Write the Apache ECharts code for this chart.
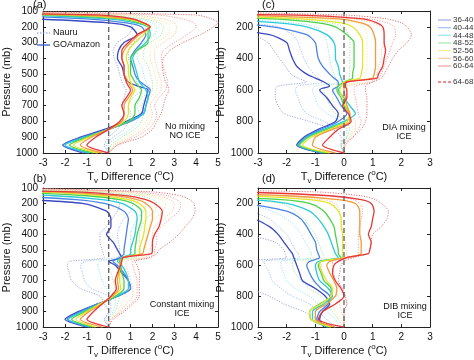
<!DOCTYPE html>
<html><head><meta charset="utf-8">
<script src="https://cdn.jsdelivr.net/npm/echarts@6/dist/echarts.min.js"></script>
<style>html,body{margin:0;padding:0;background:#fff}#c{width:474px;height:360px}</style>
</head><body><div id="c"></div>
<script>
// Pressure levels (mb)
const P = [100,125,150,175,200,250,300,350,400,450,500,525,550,575,600,650,700,750,800,850,900,950,1000];
const binLabels = ['36-40','40-44','44-48','48-52','52-56','56-60','60-64','64-68'];
const yTicksCD = [200,400,600,800,1000];

// Panel (a) No mixing, NO ICE
const aGoAmazon = [
 [-20,-10,-3.5,0.0,1.0,1.3,0.7,0.45,0.4,0.6,0.7,0.75,0.9,1.3,1.8,1.7,1.6,1.5,0.8,-0.2,-1.3,-2.1,-1.2],
 [-18,-6,-1.0,0.8,1.5,1.7,1.5,1.2,1.0,1.1,1.2,1.3,1.45,1.7,1.9,1.8,1.7,1.6,1.0,0.0,-1.2,-2.1,-1.0],
 [-16,-4,0.0,1.2,1.8,1.9,1.7,1.3,1.1,1.2,1.3,1.35,1.4,1.55,1.7,1.8,1.7,1.6,0.9,0.0,-1.1,-2.0,-0.9],
 [-15,-3,0.5,1.4,1.8,1.8,1.8,1.3,1.0,1.0,1.0,1.1,1.2,1.35,1.5,1.4,1.2,1.2,0.9,0.0,-1.0,-1.8,-0.7],
 [-14,-2,0.8,1.5,1.8,1.6,1.2,0.9,0.8,0.9,0.9,0.95,1.0,1.1,1.2,1.0,0.9,0.9,0.7,0.0,-0.9,-1.6,-0.5],
 [-13,-1.5,1.0,1.6,1.9,1.4,1.0,0.7,0.6,0.7,0.7,0.8,0.9,1.0,1.1,0.9,0.7,0.7,0.6,0.0,-0.8,-1.3,-0.3],
 [-12,-0.5,1.1,1.6,1.9,1.3,0.9,0.6,0.6,0.7,0.7,0.75,0.8,0.9,1.0,0.8,0.6,0.7,0.5,0.0,-0.6,-1.0,0.0]
];
const aNauru = [
 [-12,-1.5,0.4,0.9,1.1,0.9,0.4,0.2,0.25,0.4,0.5,0.55,0.6,0.7,0.8,0.7,0.6,0.7,0.6,0.4,0.0,-0.2,0.0],
 [-11,-1.0,0.9,1.5,1.7,1.6,1.1,0.9,0.9,1.1,1.2,1.25,1.3,1.4,1.5,1.1,0.9,1.0,0.9,0.7,0.2,-0.1,0.0],
 [-10,-0.5,1.3,2.0,2.2,2.1,1.6,1.3,1.3,1.5,1.6,1.65,1.7,1.8,1.9,1.5,1.3,1.4,1.3,1.0,0.4,0.0,0.0],
 [-9,0.0,1.6,2.3,2.5,2.4,1.9,1.6,1.6,1.8,1.9,1.95,2.0,2.0,2.0,1.7,1.5,1.6,1.5,1.2,0.6,0.1,0.0],
 [-8.5,0.4,2.0,2.6,2.8,2.7,2.2,1.9,1.9,2.0,2.1,2.15,2.2,2.2,2.2,1.9,1.7,1.8,1.7,1.4,0.8,0.2,0.0],
 [-8,1.0,2.5,3.0,3.1,3.0,2.5,2.1,2.1,2.2,2.3,2.35,2.4,2.4,2.4,2.1,1.9,2.0,1.9,1.6,1.0,0.3,0.0],
 [-7,2.2,3.4,3.9,4.0,3.6,3.0,2.5,2.4,2.5,2.6,2.65,2.7,2.65,2.6,2.3,2.1,2.2,2.1,1.8,1.2,0.4,0.0],
 [-6,4.0,4.7,5.0,4.8,4.2,3.4,2.8,2.5,2.45,2.5,2.55,2.6,2.7,2.75,2.6,2.5,2.4,2.2,2.0,1.5,0.4,0.0]
];

// Panel (b) Constant mixing, ICE
const bGoAmazon = [
 [-30,-20,-10,-4,-1.2,-0.1,0.1,0.1,-0.1,0.2,0.4,0.5,0.6,0.0,0.3,0.6,0.9,1.0,0.4,-0.5,-1.4,-2.0,-1.0],
 [-25,-12,-5,-1.5,-0.2,0.7,0.9,0.85,0.8,0.75,0.7,0.7,0.5,0.2,0.4,0.7,0.9,1.0,0.4,-0.5,-1.3,-1.9,-0.9],
 [-20,-8,-2.5,-0.3,0.6,1.2,1.3,1.25,1.2,1.1,1.0,1.0,0.6,0.4,0.6,0.8,0.9,0.9,0.35,-0.4,-1.2,-1.85,-0.8],
 [-17,-5,-1.0,0.5,1.1,1.5,1.5,1.4,1.3,1.25,1.2,1.2,0.65,0.5,0.55,0.6,0.7,0.7,0.3,-0.4,-1.1,-1.7,-0.7],
 [-15,-3.5,-0.3,0.9,1.4,1.7,1.7,1.65,1.6,1.5,1.4,1.4,0.65,0.55,0.5,0.5,0.5,0.55,0.2,-0.4,-1.0,-1.5,-0.6],
 [-13,-2.5,0.3,1.3,1.7,2.0,2.0,1.9,1.8,1.7,1.6,1.55,0.65,0.55,0.5,0.45,0.4,0.45,0.15,-0.3,-0.9,-1.3,-0.3],
 [-12,-1.5,0.8,1.7,2.1,2.45,2.4,2.3,2.1,2.0,2.0,1.95,0.65,0.6,0.55,0.4,0.3,0.35,0.1,-0.3,-0.7,-1.0,0.0]
];
const bNauru = [
 [-12,-3,-0.5,0.3,0.5,0.4,0.15,-0.1,-0.4,-0.4,-0.3,-0.25,-0.2,-1.8,-1.9,-1.8,-1.7,-1.3,-0.4,-0.2,0.0,-0.2,0.0],
 [-10,-2,0.3,0.9,1.1,1.0,0.7,0.5,0.4,0.45,0.5,0.5,0.4,-1.1,-1.3,-1.2,-1.1,-0.8,0.0,0.1,0.1,-0.2,0.0],
 [-9,-1.2,0.9,1.5,1.7,1.6,1.3,1.1,1.0,1.0,1.05,1.05,0.9,-0.4,-0.5,-0.4,-0.3,-0.1,0.3,0.3,0.2,-0.1,0.0],
 [-8,-0.5,1.4,2.0,2.2,2.1,1.7,1.5,1.4,1.4,1.45,1.45,1.2,0.0,0.0,0.1,0.2,0.3,0.5,0.4,0.3,0.0,0.0],
 [-7,0.0,1.8,2.4,2.6,2.5,2.1,1.8,1.7,1.7,1.7,1.7,1.4,0.4,0.4,0.5,0.6,0.7,0.8,0.6,0.4,0.0,0.0],
 [-6,0.6,2.2,2.8,3.0,2.9,2.5,2.1,2.0,2.0,1.9,1.9,1.6,0.8,0.8,0.9,1.0,1.1,1.1,0.8,0.5,0.1,0.0],
 [-5,1.2,2.7,3.1,3.3,3.2,2.8,2.4,2.2,2.2,2.1,2.1,1.8,1.1,1.1,1.2,1.3,1.3,1.3,1.0,0.6,0.1,0.0],
 [-4,2.0,3.3,3.7,3.9,3.95,3.8,3.5,3.2,2.8,2.3,2.2,1.9,1.2,1.3,1.4,1.4,1.4,1.4,1.1,0.7,0.2,0.0]
];

// Panel (c) DIA mixing, ICE
const cGoAmazon = [
 [-40,-30,-20,-10,-5,-2.6,-2.0,-1.9,-1.8,-1.65,-1.3,-1.0,-0.7,-0.5,-0.85,-0.6,-0.4,-0.2,-0.3,-0.9,-1.4,-1.65,-0.8],
 [-30,-20,-10,-4.5,-2.5,-1.3,-1.0,-0.95,-0.9,-0.75,-0.5,-0.35,-0.2,-0.2,-0.4,-0.25,-0.1,0.1,-0.2,-0.8,-1.35,-1.6,-0.75],
 [-25,-12,-5,-2.3,-1.3,-0.6,-0.35,-0.3,-0.3,-0.2,-0.15,-0.1,-0.05,-0.1,-0.2,0.0,0.2,0.4,0.0,-0.7,-1.3,-1.6,-0.7],
 [-20,-8,-2.5,-0.9,-0.3,0.1,0.35,0.35,0.35,0.35,0.3,0.3,0.0,-0.2,-0.25,-0.1,0.0,0.2,0.1,-0.6,-1.25,-1.55,-0.6],
 [-18,-6,-1.5,-0.1,0.3,0.55,0.65,0.65,0.65,0.65,0.6,0.55,0.0,-0.1,-0.15,-0.05,0.05,0.2,0.1,-0.5,-1.15,-1.45,-0.5],
 [-16,-4,-0.2,0.6,0.9,1.05,1.1,1.1,1.1,1.1,1.05,1.0,0.05,0.0,0.0,0.05,0.1,0.2,0.2,-0.4,-1.0,-1.1,-0.3],
 [-14,-2,0.65,1.15,1.35,1.4,1.4,1.45,1.4,1.35,1.2,1.15,0.1,0.05,0.1,0.1,-0.05,0.15,0.25,-0.2,-0.5,-0.75,0.0]
];
const cNauru = [
 [-30,-20,-12,-7,-5,-3.2,-2.65,-2.45,-2.25,-2.05,-1.85,-1.6,-1.3,-2.3,-2.4,-2.4,-2.3,-2.1,-1.2,-0.4,-0.1,-0.1,0.0],
 [-25,-14,-7,-3.5,-2.3,-1.8,-1.6,-1.5,-1.4,-1.25,-1.05,-0.9,-0.75,-1.6,-1.7,-1.6,-1.5,-1.3,-0.7,-0.2,0.0,-0.1,0.0],
 [-20,-9,-4,-1.8,-1.0,-0.7,-0.6,-0.55,-0.5,-0.45,-0.35,-0.3,-0.25,-1.0,-1.1,-1.0,-0.9,-0.6,-0.1,0.1,0.1,-0.1,0.0],
 [-16,-6,-2.0,-0.5,0.0,0.15,0.2,0.2,0.2,0.2,0.2,0.2,0.15,-0.6,-0.7,-0.6,-0.5,-0.3,0.1,0.2,0.1,-0.1,0.0],
 [-13,-4,-0.8,0.4,0.7,0.8,0.8,0.8,0.8,0.8,0.75,0.7,0.6,-0.3,-0.4,-0.4,-0.3,-0.1,0.2,0.3,0.2,0.0,0.0],
 [-11,-2.5,0.3,1.0,1.3,1.4,1.4,1.3,1.3,1.2,1.15,1.1,0.9,0.1,0.0,0.0,0.1,0.2,0.4,0.4,0.2,0.0,0.0],
 [-9,-1.0,0.9,1.5,1.75,1.8,1.7,1.6,1.5,1.4,1.3,1.2,1.0,0.4,0.35,0.4,0.45,0.5,0.6,0.5,0.3,0.0,0.0],
 [-7,0.0,1.5,2.0,2.2,2.35,2.2,1.9,1.7,1.55,1.4,1.3,1.0,0.75,0.75,0.8,0.8,0.8,0.75,0.6,0.3,0.05,0.0]
];

// Panel (d) DIB mixing, ICE
const dGoAmazon = [
 [-60,-50,-40,-30,-20,-10,-3.2,-2.6,-2.3,-2.1,-1.9,-1.8,-1.75,-1.7,-1.65,-1.55,-1.45,-1.0,-0.65,-0.5,-0.75,-0.85,-0.7],
 [-40,-30,-20,-7,-3.5,-2.0,-1.5,-1.3,-1.15,-1.0,-0.95,-0.9,-0.85,-1.2,-1.3,-1.2,-1.05,-0.8,-0.5,-0.55,-0.85,-0.95,-0.6],
 [-30,-20,-10,-3.5,-2.0,-1.2,-0.9,-0.7,-0.55,-0.45,-0.35,-0.3,-0.2,-0.9,-1.0,-0.95,-0.85,-0.55,-0.4,-0.7,-1.1,-1.1,-0.55],
 [-25,-15,-6,-2.2,-1.2,-0.7,-0.5,-0.35,-0.3,-0.25,-0.2,-0.2,-0.1,-0.8,-0.9,-0.8,-0.7,-0.45,-0.45,-0.85,-1.2,-1.15,-0.5],
 [-20,-10,-3.5,-1.2,-0.5,-0.2,-0.1,-0.1,-0.05,-0.05,-0.05,-0.05,-0.05,-0.8,-0.85,-0.75,-0.6,-0.4,-0.45,-0.8,-1.2,-1.15,-0.45],
 [-18,-7,-2.0,-0.2,0.4,0.55,0.55,0.55,0.55,0.6,0.6,0.6,0.05,-0.5,-0.6,-0.5,-0.35,-0.25,-0.3,-0.6,-1.0,-1.0,-0.3],
 [-16,-4,-0.5,0.6,0.95,1.05,1.0,0.95,0.85,0.95,0.9,0.85,0.1,-0.2,-0.35,-0.4,-0.3,-0.1,0.0,-0.3,-0.75,-0.9,0.0]
];
const dNauru = [
 [-60,-50,-40,-30,-20,-12,-8,-5,-3.5,-2.4,-2.1,-2.05,-2.0,-4.0,-4.2,-4.2,-4.0,-3.3,-2.6,-2.1,-1.4,-0.9,-0.3],
 [-50,-40,-30,-15,-6,-3.3,-2.6,-2.3,-2.0,-1.85,-1.7,-1.6,-1.55,-2.8,-2.75,-2.6,-2.5,-2.2,-1.8,-1.2,-0.9,-0.6,-0.3],
 [-40,-30,-15,-6,-3.5,-2.5,-2.0,-1.7,-1.5,-1.35,-1.2,-1.15,-1.1,-2.2,-2.2,-2.1,-2.0,-1.7,-1.2,-0.9,-0.6,-0.3,-0.1],
 [-30,-20,-8,-3.5,-2.2,-1.7,-1.4,-1.2,-1.0,-0.9,-0.8,-0.75,-0.7,-1.8,-1.8,-1.7,-1.5,-1.2,-0.8,-0.6,-0.4,-0.2,0.0],
 [-25,-12,-5,-2.0,-1.2,-0.9,-0.8,-0.65,-0.5,-0.45,-0.4,-0.4,-0.35,-1.3,-1.3,-1.2,-1.1,-0.8,-0.5,-0.4,-0.3,-0.1,0.0],
 [-20,-8,-2.5,-0.8,-0.3,-0.15,-0.1,-0.05,0.0,0.05,0.1,0.1,0.1,-0.8,-0.8,-0.75,-0.7,-0.45,-0.2,-0.15,-0.1,0.0,0.0],
 [-15,-4,-0.5,0.3,0.55,0.65,0.6,0.55,0.5,0.5,0.5,0.5,0.4,-0.4,-0.4,-0.35,-0.3,-0.15,0.0,0.1,0.0,0.0,0.0],
 [-10,-1,0.6,1.1,1.3,1.55,1.5,1.3,1.0,0.95,0.9,0.85,0.3,0.0,-0.1,-0.15,-0.2,-0.05,0.05,0.1,0.0,0.0,0.0]
];

const panelNotes = [['No mixing','NO ICE'],['Constant mixing','ICE'],['DIA mixing','ICE'],['DIB mixing','ICE']];
const panelTags = ['(a)','(b)','(c)','(d)'];

const solidColors = ['#3a48c4','#4a84e6','#2ccbd6','#4cd24c','#e4e42c','#f39a3c','#e63838'];
const dotColors = ['#a2a6dc','#9ec2f0','#9ae4ec','#a6e8a6','#f0ee98','#f7c89c','#f2a2a2','#e27878'];

const FONT = 'Liberation Sans, Arial, sans-serif';
const grids = [
  {left:30, top:11, width:188, height:142},
  {left:30, top:188, width:188, height:143},
  {left:258, top:11, width:172, height:142},
  {left:258, top:188, width:172, height:143}
];
const panels = [
  {go:aGoAmazon, na:aNauru, xmax:5},
  {go:bGoAmazon, na:bNauru, xmax:5},
  {go:cGoAmazon, na:cNauru, xmax:3},
  {go:dGoAmazon, na:dNauru, xmax:3}
];

const xAxes = [], yAxes = [], series = [];
const xName = '{n|T}{s|v}{n| Difference (}{p|o}{n|C)}';
const rich = {
  n:{fontSize:11, fontFamily:FONT, color:'#111', lineHeight:16, verticalAlign:'middle'},
  s:{fontSize:8, fontFamily:FONT, color:'#111', lineHeight:8, verticalAlign:'bottom'},
  p:{fontSize:8, fontFamily:FONT, color:'#111', lineHeight:8, verticalAlign:'top'}
};
const plain = v => String(v);
panels.forEach((pn, g) => {
  const isCD = g >= 2;
  xAxes.push({gridIndex:g, type:'value', position:'bottom', min:-3, max:pn.xmax, interval:1,
    axisLine:{onZero:false, lineStyle:{color:'#222', width:1}},
    axisTick:{inside:true, length:3, lineStyle:{color:'#222'}},
    axisLabel:{fontSize:10, fontFamily:FONT, color:'#111', margin:5, formatter:plain},
    splitLine:{show:false},
    name:xName, nameLocation:'middle', nameGap:15, nameTextStyle:{rich:rich}});
  xAxes.push({gridIndex:g, type:'value', position:'top', min:-3, max:pn.xmax, interval:1,
    axisLine:{onZero:false, lineStyle:{color:'#222', width:1}},
    axisTick:{inside:true, length:3, lineStyle:{color:'#222'}},
    axisLabel:{show:false}, splitLine:{show:false}});
  const yBase = {gridIndex:g, type:'value', inverse:true, min:100, max:1000, interval:100,
    splitLine:{show:false}};
  const tick = isCD ? {inside:true, length:3, customValues:yTicksCD, lineStyle:{color:'#222'}}
                    : {inside:true, length:3, lineStyle:{color:'#222'}};
  const lab = {fontSize:10, fontFamily:FONT, color:'#111', margin:5, formatter:plain};
  if (isCD) lab.customValues = yTicksCD;
  yAxes.push(Object.assign({}, yBase, {position:'left',
    axisLine:{onZero:false, lineStyle:{color:'#222', width:1}},
    axisTick: tick, axisLabel: lab,
    name:'Pressure (mb)', nameLocation:'middle', nameGap:22, nameRotate:90,
    nameTextStyle:{fontSize:11, fontFamily:FONT, color:'#111'}}));
  yAxes.push(Object.assign({}, yBase, {position:'right',
    axisLine:{onZero:false, lineStyle:{color:'#222', width:1}},
    axisTick: tick, axisLabel:{show:false}}));
});

panels.forEach((pn, g) => {
  const xi = g*2, yi = g*2;
  pn.na.forEach((xs, i) => {
    series.push({type:'line', name:'Nauru '+binLabels[i], xAxisIndex:xi, yAxisIndex:yi,
      data: xs.map((x,k)=>[x,P[k]]), symbol:'none', smooth:0.25, clip:true, silent:true,
      lineStyle:{color:dotColors[i], width:1, type:[1.2,1.4]}, z:2});
  });
  pn.go.forEach((xs, i) => {
    series.push({type:'line', name:'GOAmazon '+binLabels[i], xAxisIndex:xi, yAxisIndex:yi,
      data: xs.map((x,k)=>[x,P[k]]), symbol:'none', smooth:0.25, clip:true, silent:true,
      lineStyle:{color:solidColors[i], width:1.3}, z:3});
  });
  series.push({type:'line', xAxisIndex:xi, yAxisIndex:yi, data:[[0,100],[0,1000]],
    symbol:'none', silent:true, lineStyle:{color:'#555', width:1.2, type:[5,3]}, z:5});
});

const graphic = [];
const tagPos = [[33,-1],[33,173],[262,-1],[262,173]];
panelTags.forEach((t,i)=>graphic.push({type:'text', left:tagPos[i][0], top:tagPos[i][1], z:100,
  style:{text:t, fontSize:11, fontFamily:FONT, fill:'#111'}}));
const notePos = [[185,127],[182,305],[404,128],[405,307]];
panelNotes.forEach((n,i)=>{
  graphic.push({type:'text', x:notePos[i][0], y:notePos[i][1], z:100,
    style:{text:n[0], fontSize:9, fontFamily:FONT, fill:'#111', align:'center', verticalAlign:'middle'}});
  graphic.push({type:'text', x:notePos[i][0], y:notePos[i][1]+9, z:100,
    style:{text:n[1], fontSize:9, fontFamily:FONT, fill:'#111', align:'center', verticalAlign:'middle'}});
});
// panel (a) legend
graphic.push({type:'line', z:100, shape:{x1:37,y1:33,x2:50,y2:33}, style:{stroke:'#7f8fe6', lineWidth:1, lineDash:[1.5,1.5]}});
graphic.push({type:'text', z:100, x:53, y:33, style:{text:'Nauru', fontSize:9, fontFamily:FONT, fill:'#111', verticalAlign:'middle'}});
graphic.push({type:'line', z:100, shape:{x1:37,y1:45,x2:50,y2:45}, style:{stroke:'#3a58d8', lineWidth:1.3}});
graphic.push({type:'text', z:100, x:53, y:45, style:{text:'GOAmazon', fontSize:9, fontFamily:FONT, fill:'#111', verticalAlign:'middle'}});
// right legend
const legY = [20,27.7,35.3,43,50.6,58.3,66,82];
binLabels.forEach((b,i)=>{
  const y = legY[i];
  if (i < 7) {
    graphic.push({type:'line', z:100, shape:{x1:438,y1:y,x2:451,y2:y}, style:{stroke:dotColors[i], lineWidth:1.2}});
  } else {
    graphic.push({type:'line', z:100, shape:{x1:438,y1:y,x2:451,y2:y}, style:{stroke:'#d42020', lineWidth:1.2, lineDash:[3,2]}});
  }
  graphic.push({type:'text', z:100, x:453, y:y, style:{text:b, fontSize:8, fontFamily:FONT, fill:'#333', verticalAlign:'middle'}});
});

const chart = echarts.init(document.getElementById('c'), null, {renderer:'canvas'});
chart.setOption({
  animation:false,
  backgroundColor:'#fff',
  grid: grids,
  xAxis: xAxes,
  yAxis: yAxes,
  series: series,
  graphic: graphic
});
</script></body></html>
